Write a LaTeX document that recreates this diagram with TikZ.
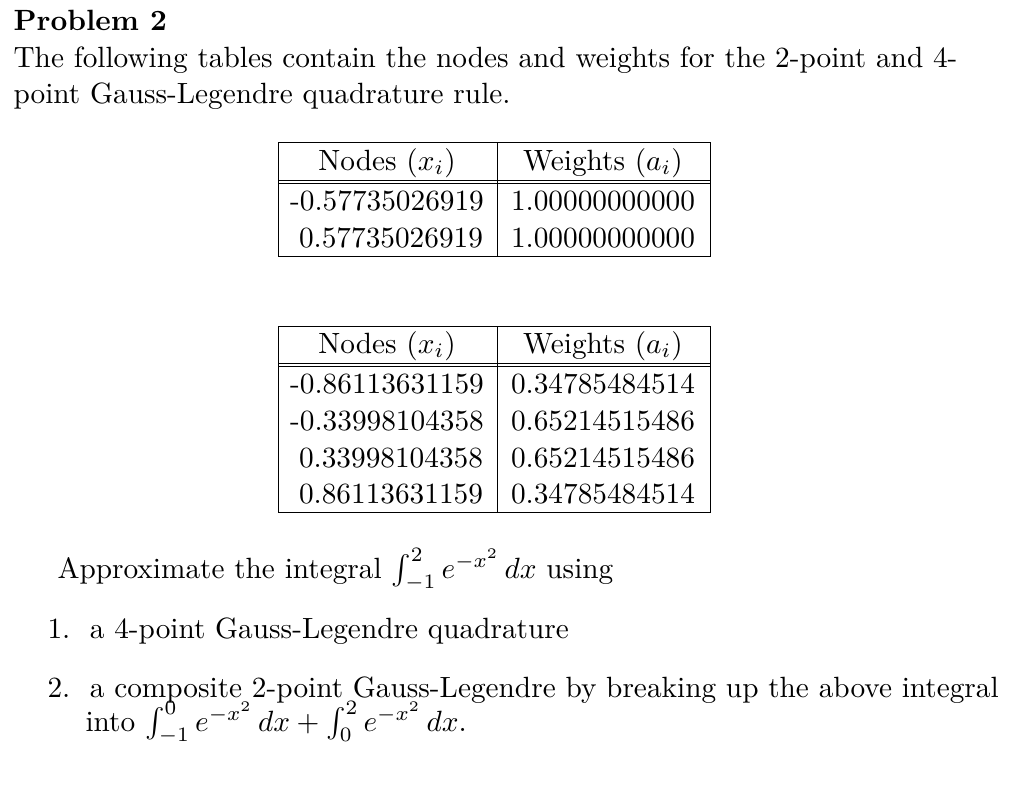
\documentclass[tikz,border=0pt]{standalone}
\begin{document}
\begin{tikzpicture}[x=1pt,y=-1pt,
  txt/.style={inner sep=0pt,anchor=base west,scale=2.93,font=\fontsize{10}{12}\selectfont},
  cell/.style={inner sep=0pt,anchor=base,scale=2.93,font=\fontsize{10}{12}\selectfont},
  rule/.style={line width=0.8pt}]
\useasboundingbox (0,0) rectangle (1024,796);
\node[txt] (t0) at (13,30) {\bfseries Problem 2};
\node[txt] (t1) at (13,67) {The following tables contain the nodes and weights for the 2-point and 4-};
\node[txt] (t2) at (13,103) {point Gauss-Legendre quadrature rule.};
% table 1
\draw[rule] (278,142) rectangle (710,256);
\draw[rule] (278,180) -- (710,180);
\draw[rule] (278,183.5) -- (710,183.5);
\draw[rule] (497,142) -- (497,256);
\node[cell] (h1) at (387,170) {Nodes ($x_i$)};
\node[cell] (h2) at (603,170) {Weights ($a_i$)};
\node[cell] (a1) at (387,210) {-0.57735026919};
\node[cell] (b1) at (603,210) {1.00000000000};
\node[cell] (a2) at (391,247) {0.57735026919};
\node[cell] (b2) at (603,247) {1.00000000000};
% table 2
\draw[rule] (278,326) rectangle (710,512);
\draw[rule] (278,363) -- (710,363);
\draw[rule] (278,366.5) -- (710,366.5);
\draw[rule] (497,326) -- (497,512);
\node[cell] (H1) at (387,353) {Nodes ($x_i$)};
\node[cell] (H2) at (603,353) {Weights ($a_i$)};
\node[cell] (c1) at (387,393) {-0.86113631159};
\node[cell] (d1) at (603,393) {0.34785484514};
\node[cell] (c2) at (387,430) {-0.33998104358};
\node[cell] (d2) at (603,430) {0.65214515486};
\node[cell] (c3) at (391,467) {0.33998104358};
\node[cell] (d3) at (603,467) {0.65214515486};
\node[cell] (c4) at (391,503) {0.86113631159};
\node[cell] (d4) at (603,503) {0.34785484514};
% questions
\node[txt] (q0) at (57,578) {Approximate the integral $\int_{-1}^{2} e^{-x^2}\,dx$ using};
\node[txt] (q1) at (47,638) {1.\ \ a 4-point Gauss-Legendre quadrature};
\node[txt] (q2) at (47,697) {2.\ \ a composite 2-point Gauss-Legendre by breaking up the above integral};
\node[txt] (q3) at (85,731) {into $\int_{-1}^{0} e^{-x^2}\,dx + \int_{0}^{2} e^{-x^2}\,dx$.};
\end{tikzpicture}
\end{document}
